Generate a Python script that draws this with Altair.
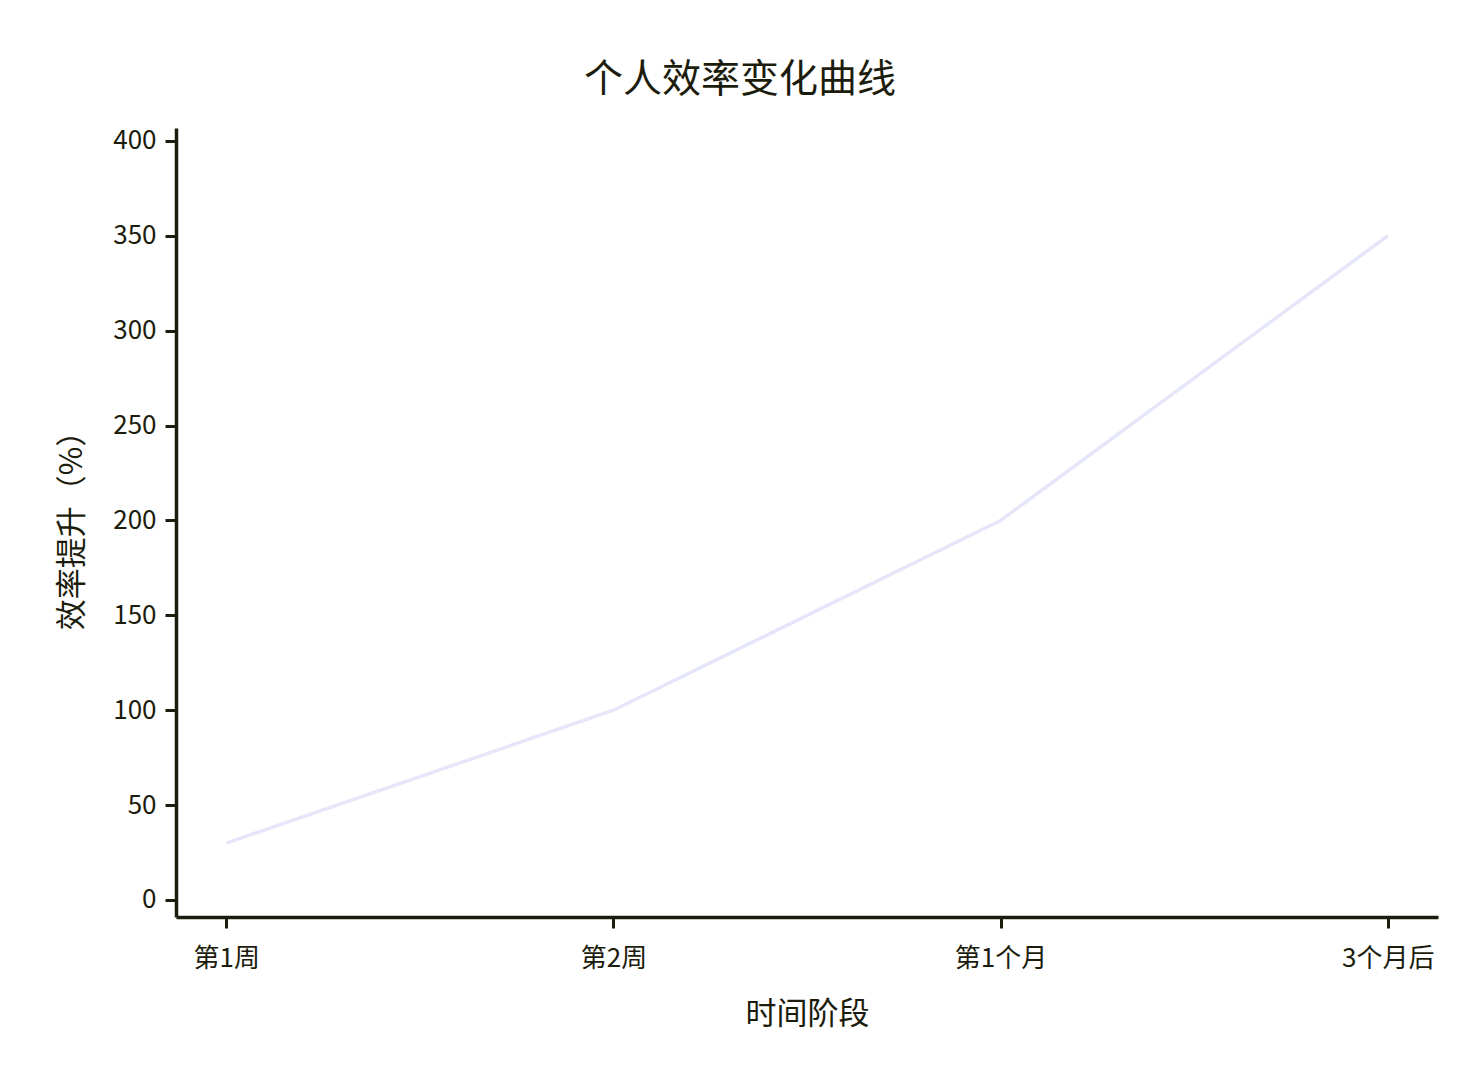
import altair as alt
import pandas as pd

stages = ["第1周", "第2周", "第1个月", "3个月后"]
efficiency = [30, 100, 200, 350]
y_ticks = [0, 50, 100, 150, 200, 250, 300, 350, 400]

df = pd.DataFrame({"stage": stages, "eff": efficiency})

FONT = "Noto Sans CJK SC"
INK = "#1c1c0c"

chart = alt.Chart(df).mark_line(color="#E6E6FA", strokeWidth=3.5).encode(
    x=alt.X("stage:N", sort=stages, title="时间阶段",
            scale=alt.Scale(type="point", padding=0.13),
            axis=alt.Axis(labelAngle=0, tickSize=11, tickWidth=3, domainWidth=3.5,
                          labelPadding=17, titlePadding=28)),
    y=alt.Y("eff:Q", title="效率提升（%）",
            scale=alt.Scale(domain=[-8.96, 406.85], nice=False, zero=False),
            axis=alt.Axis(values=y_ticks, tickSize=11, tickWidth=3, domainWidth=3.5,
                          labelPadding=9, titlePadding=24, grid=False)),
).properties(
    width=1262,
    height=789,
    autosize=alt.AutoSizeParams(type="none"),
    padding={"left": 168, "top": 120, "right": 26, "bottom": 140},
    title=alt.TitleParams("个人效率变化曲线", anchor="middle", dx=-67, offset=28,
                          fontSize=39, font=FONT, fontWeight="normal", color=INK),
).configure_view(stroke=None).configure_axis(
    labelFont=FONT, titleFont=FONT, labelFontSize=26, titleFontSize=31,
    titleFontWeight="normal", labelColor=INK, titleColor=INK,
    domainColor=INK, tickColor=INK, grid=False,
)

chart.save("out.html", embed_options={"renderer": "svg", "actions": False})
